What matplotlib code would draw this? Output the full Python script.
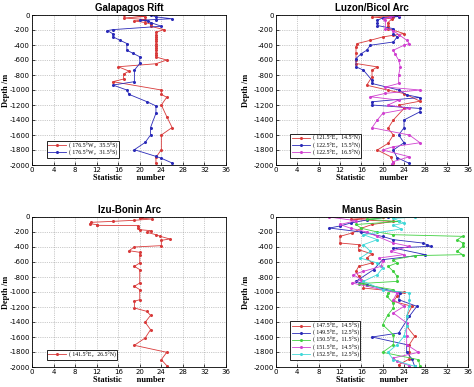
import matplotlib.pyplot as plt
import numpy as np

plt.rcParams["axes.unicode_minus"] = False

# ---- data (depth in m, statistic number) ----
GAL_RED_D = [0, 20, 40, 60, 80, 100, 120, 150, 195, 230, 260, 290, 320, 350, 380, 410, 440, 470,
             500, 530, 560, 600, 650, 690, 748, 788, 854, 889, 1000, 1058, 1097, 1200, 1354, 1500,
             1600, 1796, 1898, 1973]
GAL_RED_V = [17, 21, 17, 21, 19, 21, 22, 22, 24.5, 23, 23, 23, 23, 23, 23, 23, 23, 23,
             23, 23, 23, 25, 23, 16, 18, 17, 17, 15, 24, 24, 25, 24, 25, 26,
             24, 24, 23, 23]
GAL_BLUE_D = [0, 25, 50, 60, 70, 80, 100, 150, 195, 208, 250, 290, 336, 380, 469, 513, 557, 646,
              735, 889, 934, 1000, 1058, 1155, 1212, 1310, 1500, 1600, 1699, 1796, 1885, 1910, 1973]
GAL_BLUE_V = [22, 23, 26, 23, 20, 21.6, 22, 24, 15, 14, 15, 15, 16.3, 17.6, 17.6, 18.8, 20, 20,
              19, 19, 15, 17.6, 18, 21.3, 23, 23, 22, 22, 21, 19, 23, 24, 26]

LUZ_RED_D = [20, 27, 50, 100, 150, 180, 248, 270, 293, 337, 381, 425, 500, 603, 647, 692, 736,
             825, 936, 1002, 1047, 1149, 1202, 1246, 1400, 1512, 1600, 1712, 1800, 1890, 1978]
LUZ_RED_V = [22, 18, 21.75, 21, 21, 21, 24, 22, 20, 17.7, 15.2, 15, 15, 15, 15, 19, 18,
             18, 17, 21, 24, 27, 23, 24, 22, 21, 22, 21, 19, 21.5, 22]
LUZ_BLUE_D = [0, 20, 40, 70, 100, 140, 182, 248, 293, 360, 403, 470, 515, 580, 690, 736, 870, 913,
              1000, 1065, 1100, 1157, 1200, 1246, 1290, 1400, 1503, 1600, 1703, 1800, 1902, 1978]
LUZ_BLUE_V = [22.4, 23, 20, 19, 19, 19, 22, 22, 22.7, 22, 17.7, 17, 16, 15, 15, 16.4, 18, 18,
              23, 24.5, 27, 18, 18, 27, 27, 24, 24, 23, 24, 22, 22.7, 25]
LUZ_MAG_D = [0, 27, 50, 70, 180, 210, 260, 336, 380, 403, 470, 515, 603, 690, 800, 913, 960, 1000,
             1045, 1090, 1135, 1200, 1246, 1312, 1400, 1503, 1600, 1703, 1756, 1800, 1890, 1955, 1990]
LUZ_MAG_V = [23, 21.4, 20.3, 20.5, 20.5, 22, 23, 24.5, 25, 24, 22, 22.3, 23, 23.3, 23, 23, 20.5, 27,
             20.5, 17.7, 23, 21, 25, 20, 19, 18, 25, 27, 22, 20, 25, 22, 21.7]

IZU_RED_D = [0, 13, 27, 44, 58, 71, 89, 102, 111, 115, 147, 169, 182, 204, 236, 258, 293, 311, 382,
             400, 449, 471, 502, 613, 658, 702, 880, 924, 969, 1102, 1124, 1213, 1258, 1311, 1404,
             1502, 1613, 1711, 1804, 1902, 1982]
IZU_RED_V = [20.4, 20, 22.2, 19, 15, 11, 10.7, 12, 12, 19.7, 19.7, 20, 22, 21.3, 23, 23.8, 25.6, 24, 24,
             19, 18, 20, 20, 20, 19, 20, 20, 19, 20, 20, 19, 19, 21.3, 22, 21,
             22, 21, 19, 25, 24, 25]

MAN_RED_D = [0, 30, 60, 100, 150, 213, 258, 347, 369, 436, 493, 547, 613, 658, 724, 791, 858, 947,
             1004, 1058, 1124, 1191, 1324, 1458, 1591, 1702, 1804, 1893, 1969]
MAN_RED_V = [20, 14, 22, 18, 16, 14.3, 12, 12, 15.5, 15.5, 18, 17, 18, 15.5, 15, 15.5, 16.4, 16.4,
             24, 22.7, 22, 25.5, 24.5, 24.5, 26, 25, 25, 25, 23]
MAN_BLUE_D = [0, 40, 80, 120, 147, 200, 260, 302, 347, 369, 391, 413, 502, 569, 702, 858, 902, 1013,
              1102, 1191, 1324, 1547, 1600, 1702, 1804, 1893, 1991]
MAN_BLUE_V = [21, 17, 14, 12, 10, 16, 20, 22, 27.5, 28.3, 29, 22, 28, 20, 18.3, 15, 17, 23.3,
              23, 26.4, 25, 23, 18, 24.5, 24.5, 25.5, 26]
MAN_GREEN_D = [0, 30, 60, 100, 150, 200, 236, 258, 302, 347, 391, 458, 502, 515, 569, 613, 658, 724,
               791, 858, 889, 969, 1013, 1058, 1147, 1213, 1302, 1436, 1569, 1702, 1804, 1902, 1991]
MAN_GREEN_V = [22, 17, 23, 15, 16, 19, 22, 35, 34, 35, 35, 34, 35, 26, 22, 22.7, 21, 22,
               22.7, 22.7, 15.5, 22, 21, 20.8, 22, 22, 21, 20, 22, 22, 20, 26.7, 27]
MAN_MAG_D = [0, 50, 100, 150, 200, 260, 347, 391, 458, 502, 547, 590, 658, 724, 769, 836, 880, 1013,
             1102, 1191, 1280, 1413, 1591, 1702, 1804, 1880, 1924, 1982]
MAN_MAG_V = [10, 15, 12, 14, 17, 19, 22, 25, 21.5, 24, 19.3, 20, 19.7, 16.4, 14.5, 16, 14.3, 22.7,
             22, 24, 22, 24.5, 24.5, 24.5, 26.7, 22, 22.7, 25]
MAN_CYAN_D = [0, 20, 50, 80, 110, 160, 236, 302, 369, 458, 547, 613, 680, 769, 858, 969, 1013, 1102,
              1191, 1324, 1458, 1591, 1702, 1804, 1902, 1991]
MAN_CYAN_V = [26, 22, 23, 24, 22, 23.5, 16.4, 19, 16.4, 17.7, 15.8, 19, 20, 19, 16.4, 20, 25, 25,
              25, 24.5, 24.5, 24, 22.7, 21, 22, 26]

RED, BLUE, MAG, GREEN, CYAN = "#d83a3a", "#2a2ab8", "#d040d0", "#40d040", "#40d8d8"

PANELS = [
    ("Galapagos Rift", [32, 15],
     [(GAL_RED_D, GAL_RED_V, RED, "( 176.5°W，35.5°S)"),
      (GAL_BLUE_D, GAL_BLUE_V, BLUE, "( 176.5°W，31.5°S)")]),
    ("Luzon/Bicol Arc", [276, 15],
     [(LUZ_RED_D, LUZ_RED_V, RED, "( 121.5°E，14.5°N)"),
      (LUZ_BLUE_D, LUZ_BLUE_V, BLUE, "( 122.5°E，15.5°N)"),
      (LUZ_MAG_D, LUZ_MAG_V, MAG, "( 122.5°E，16.5°N)")]),
    ("Izu-Bonin Arc", [32, 217],
     [(IZU_RED_D, IZU_RED_V, RED, "( 141.5°E，26.5°N)")]),
    ("Manus Basin", [276, 217],
     [(MAN_RED_D, MAN_RED_V, RED, "( 147.5°E，14.5°S)"),
      (MAN_BLUE_D, MAN_BLUE_V, BLUE, "( 149.5°E，12.5°S)"),
      (MAN_GREEN_D, MAN_GREEN_V, GREEN, "( 150.5°E，11.5°S)"),
      (MAN_MAG_D, MAN_MAG_V, MAG, "( 151.5°E，14.5°S)"),
      (MAN_CYAN_D, MAN_CYAN_V, CYAN, "( 152.5°E，12.5°S)")]),
]

W, H = 474, 387
fig = plt.figure(figsize=(W / 100, H / 100), dpi=100)

for title, (px, py), series in PANELS:
    left = px < 100
    aw, ah = (194 if left else 192), 150
    ax = fig.add_axes([px / W, 1 - (py + ah) / H, aw / W, ah / H])
    for d, v, c, lab in series:
        ax.plot(v, -np.array(d), "-", color=c, linewidth=0.6,
                marker="o", markersize=1.2, label=lab)
    ax.set_xlim(0, 36)
    ax.set_ylim(-2000, 0)
    ax.set_xticks(np.arange(0, 37, 4))
    ax.set_yticks(np.arange(-2000, 1, 200))
    ax.tick_params(direction="in", labelsize=5, length=2, width=0.5, pad=1.5)
    ax.grid(True, linestyle=":", color="#999999", linewidth=0.5)
    for s in ax.spines.values():
        s.set_linewidth(0.6)
    ax.set_title(title, fontsize=7, fontweight="bold", family="Liberation Sans", pad=3)
    ax.set_xlabel("Statistic       number", fontsize=6, fontweight="bold",
                  family="Liberation Serif", labelpad=1)
    ax.set_ylabel("Depth /m", fontsize=6, fontweight="bold", family="Liberation Serif")
    ax.yaxis.set_label_coords(-(22 if left else 26) / aw, 0.5)
    leg = ax.legend(loc="lower left", bbox_to_anchor=(0.06, 0.03),
                    prop={"family": ["Liberation Serif", "Noto Sans CJK SC"], "size": 4.2},
                    frameon=True, fancybox=False, edgecolor="black", framealpha=1,
                    borderpad=0.3, labelspacing=0.2, handlelength=3, handletextpad=0.5)
    leg.get_frame().set_linewidth(0.6)

fig.savefig("out.png", dpi=100)
